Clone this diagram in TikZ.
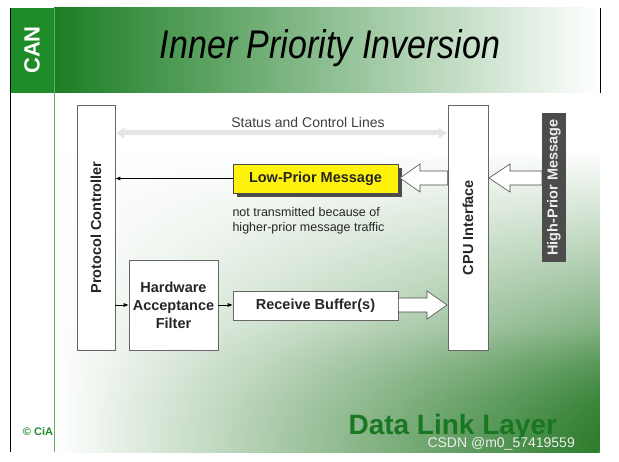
\documentclass[tikz,border=0pt]{standalone}
\usepackage{fontspec}
\setmainfont{Liberation Sans}
\usetikzlibrary{arrows.meta,fadings}
\definecolor{cgreen}{RGB}{30,140,40}
\definecolor{dgreen}{RGB}{45,125,45}
\begin{document}
\begin{tikzpicture}[x=1pt,y=-1pt,
 box/.style={draw=black!60,fill=white,line width=0.6pt},
 hol/.style={draw=black!70,fill=white,line width=0.6pt},
 lab/.style={font=\bfseries\fontsize{14.5}{17}\selectfont,text=black!85}]
\useasboundingbox (0,0) rectangle (619,462);
\fill[white] (0,0) rectangle (619,462);
% backgrounds
\shade[left color=white,right color=dgreen,path fading=north] (54,150) rectangle (600,452);
\shade[left color=white,right color=dgreen,path fading=north] (54,330) rectangle (600,452);
\shade[left color=cgreen!90!black,right color=white] (54,8) rectangle (600,93);
\fill[cgreen] (10,8) rectangle (54,93);
\draw[cgreen!70,line width=1pt] (54,8) -- (54,452);
\draw[black,line width=0.6pt] (10,8) -- (10,452);
\draw[black,line width=0.6pt] (600,8) -- (600,93);
\node[text=white,rotate=90,font=\bfseries\fontsize{22}{24}\selectfont] (can) at (32,50) {CAN};
\node[font=\itshape\fontsize{40}{44}\selectfont,xscale=0.85] (title) at (330,48) {Inner Priority Inversion};
% boxes
\node[box,minimum width=38pt,minimum height=245pt,inner sep=0pt] (pc) at (96,227.5) {};
\node[rotate=90,lab] at (pc) {Protocol Controller};
\node[box,minimum width=40pt,minimum height=245pt,inner sep=0pt] (cpu) at (468,227.5) {};
\node[rotate=90,lab] at (cpu) {CPU Interface};
\node[fill=black!70,minimum width=24pt,minimum height=149pt,inner sep=0pt] (hp) at (554,187.5) {};
\node[rotate=90,lab,text=black!8] at (hp) {High-Prior Message};
% status line
\draw[{Latex[length=9pt,width=12pt]}-{Latex[length=9pt,width=12pt]},black!10,line width=5pt] (pc.east|-0,133) -- (cpu.west|-0,133);
\node[text=black!75,font=\fontsize{14}{16}\selectfont] (st) at (308,122) {Status and Control Lines};
% low prior
\fill[black!70] (237,168) rectangle (402,197);
\node[draw=black!70,fill=yellow!95!white,minimum width=165pt,minimum height=29pt,inner sep=0pt,lab] (lp) at (315.5,178.5) {Low-Prior Message};
\draw[-{Latex[length=5pt,width=4pt]},line width=0.6pt] (lp.west) -- (pc.east|-lp.west);
\draw[hol] (cpu.west|-0,171) -- (420,171) -- (420,164) -- (400,178) -- (420,192) -- (420,185) -- (cpu.west|-0,185) -- cycle;
\draw[hol] (hp.west|-0,171) -- (510,171) -- (510,164) -- (489,178) -- (510,192) -- (510,185) -- (hp.west|-0,185) -- cycle;
\node[align=left,anchor=north west,text=black!85,font=\fontsize{12.5}{15}\selectfont] (note) at (229,204) {not transmitted because of\\higher-prior message traffic};
% receive path
\node[box,minimum width=89pt,minimum height=90pt,inner sep=0pt,align=center,lab,font=\bfseries\fontsize{14.5}{18}\selectfont] (haf) at (173.5,305) {Hardware\\Acceptance\\Filter};
\node[box,minimum width=165pt,minimum height=29pt,inner sep=0pt,lab] (rb) at (315.5,305.5) {Receive Buffer(s)};
\draw[-{Latex[length=5pt,width=4pt]},line width=0.6pt] (pc.east|-haf) -- (haf.west);
\draw[-{Latex[length=5pt,width=4pt]},line width=0.6pt] (haf.east) -- (rb.west|-haf.east);
\draw[hol] (rb.east|-0,298) -- (427,298) -- (427,291) -- (447,305) -- (427,319) -- (427,312) -- (rb.east|-0,312) -- cycle;
% footer
\node[text=cgreen,font=\bfseries\fontsize{11}{12}\selectfont] (cia) at (38,432) {© CiA};
\node[text=cgreen!85!black,font=\bfseries\fontsize{28}{30}\selectfont,anchor=west] (dll) at (345,427) {Data Link Layer};
\node[text=white!85!gray,font=\fontsize{14}{15}\selectfont,anchor=west] (wm) at (424,444) {CSDN @m0\_57419559};
\end{tikzpicture}
\end{document}
